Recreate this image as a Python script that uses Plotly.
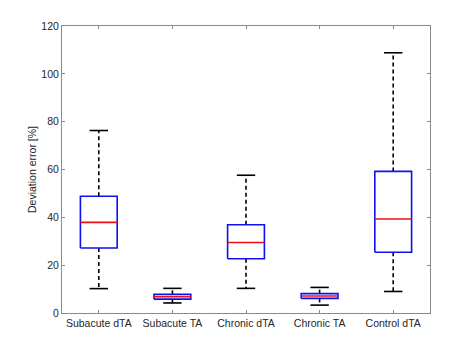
import plotly.graph_objects as go

categories = ["Subacute dTA", "Subacute TA", "Chronic dTA", "Chronic TA", "Control dTA"]
lower_whisker = [10.2, 4.2, 10.3, 3.3, 9.0]
q1 = [27.2, 5.8, 22.7, 6.1, 25.4]
median = [37.9, 6.8, 29.5, 7.1, 39.3]
q3 = [48.8, 7.8, 36.9, 8.1, 59.2]
upper_whisker = [76.3, 10.3, 57.6, 10.7, 108.8]
y_ticks = [0, 20, 40, 60, 80, 100, 120]

BOX_HALF = 0.25
CAP_HALF = 0.125

fig = go.Figure()
for i, name in enumerate(categories):
    x = i + 1
    # whiskers (dashed)
    fig.add_trace(go.Scatter(
        x=[x, x, None, x, x],
        y=[q3[i], upper_whisker[i], None, q1[i], lower_whisker[i]],
        mode="lines", line=dict(color="black", width=1.6, dash="4px,3px"),
        hoverinfo="skip", showlegend=False))
    # caps
    fig.add_trace(go.Scatter(
        x=[x - CAP_HALF, x + CAP_HALF, None, x - CAP_HALF, x + CAP_HALF],
        y=[upper_whisker[i], upper_whisker[i], None, lower_whisker[i], lower_whisker[i]],
        mode="lines", line=dict(color="black", width=1.6),
        hoverinfo="skip", showlegend=False))
    # box
    fig.add_trace(go.Scatter(
        x=[x - BOX_HALF, x + BOX_HALF, x + BOX_HALF, x - BOX_HALF, x - BOX_HALF],
        y=[q1[i], q1[i], q3[i], q3[i], q1[i]],
        mode="lines", line=dict(color="#1010ee", width=1.6),
        hoverinfo="skip", showlegend=False))
    # median
    fig.add_trace(go.Scatter(
        x=[x - BOX_HALF, x + BOX_HALF],
        y=[median[i], median[i]],
        mode="lines", line=dict(color="#ee1010", width=1.6),
        hoverinfo="skip", showlegend=False))

axis_common = dict(
    showline=True, linecolor="#8a8a8a", linewidth=1, mirror="ticks",
    ticks="inside", ticklen=3, tickcolor="#8a8a8a", showgrid=False, zeroline=False,
    tickfont=dict(family="Liberation Sans, Arial", size=10.5, color="#262626"),
)

fig.update_layout(
    width=474, height=353,
    margin=dict(l=62, r=44, t=26, b=40),
    paper_bgcolor="white", plot_bgcolor="white",
    xaxis=dict(range=[0.5, 5.5], tickvals=list(range(1, 6)), ticktext=categories, **axis_common),
    yaxis=dict(range=[0, 120], tickvals=y_ticks,
               title=dict(text="Deviation error [%]", standoff=2,
                          font=dict(family="Liberation Sans, Arial", size=10.5, color="#262626")),
               **axis_common),
)

fig.write_html("out.html")
